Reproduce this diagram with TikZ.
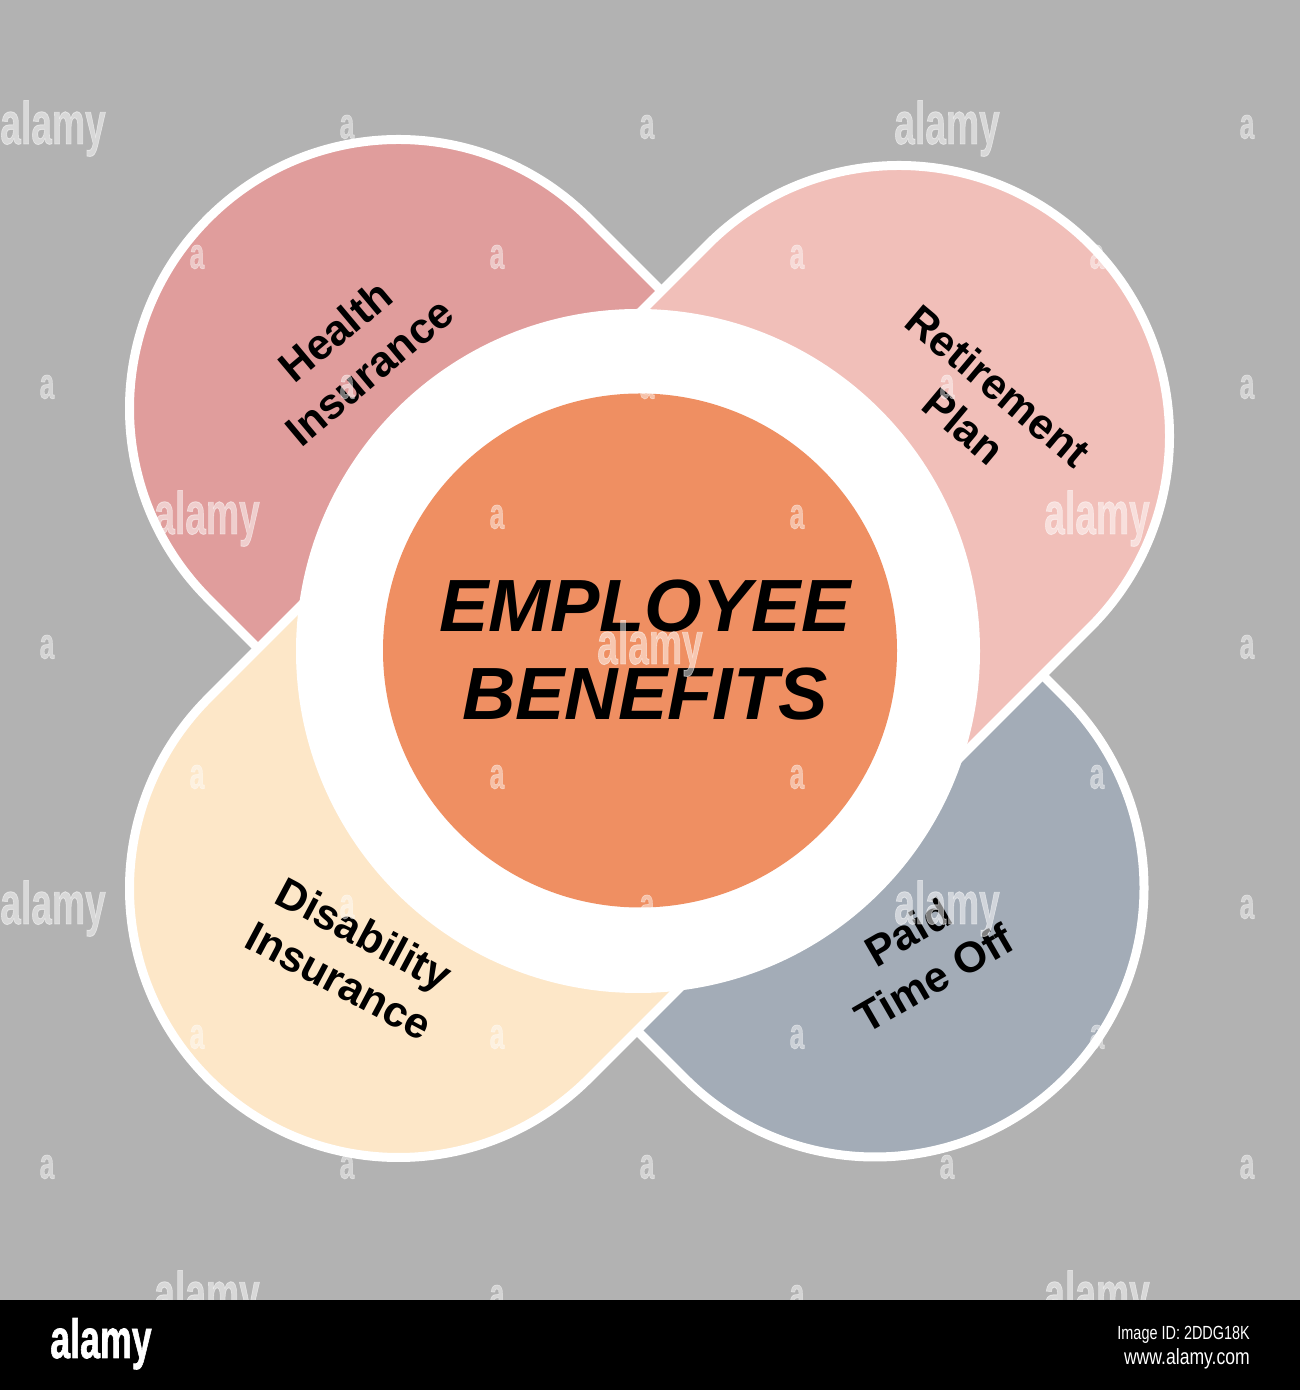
\documentclass[tikz,border=0pt]{standalone}
\usepackage{fontspec}
\setmainfont{Liberation Sans}
\newfontfamily\wmfont[FakeBold=1.5]{Liberation Sans}
\definecolor{bggray}{HTML}{B2B2B2}
\definecolor{healthc}{HTML}{E09D9C}
\definecolor{retirec}{HTML}{F1BFB9}
\definecolor{disabc}{HTML}{FDE7C8}
\definecolor{paidc}{HTML}{A3ACB7}
\definecolor{orangec}{HTML}{EF8F62}
\begin{document}
\begin{tikzpicture}[x=1pt,y=1pt,
  petal/.style={draw=white, line width=9pt, line join=round},
  lbl/.style={font=\fontsize{43}{53}\selectfont\bfseries, align=center, text=black, inner sep=0pt},
  titletext/.style={font=\fontsize{74}{88}\selectfont\bfseries\itshape, inner sep=0pt, anchor=base},
  wmbig/.style={font=\wmfont\fontsize{60}{60}\selectfont\bfseries, text=white, text opacity=0.5, xscale=0.62, inner sep=0pt, anchor=base},
  wmsmall/.style={font=\wmfont\fontsize{44}{44}\selectfont\bfseries, text=white, text opacity=0.45, xscale=0.6, inner sep=0pt},
  foot/.style={text=white, inner sep=0pt}]

\useasboundingbox (0,0) rectangle (1300,1390);
\fill[bggray] (0,0) rectangle (1300,1390);

% petals (semicircle + straight sides toward the centre)
\draw[petal, fill=healthc, shift={(398.5,981.5)}, rotate=-45]
  (0,269) arc[start angle=90, end angle=270, radius=269pt] -- (340,-269) -- (340,269) -- cycle;
\draw[petal, fill=paidc, shift={(875,502)}, rotate=135]
  (0,269) arc[start angle=90, end angle=270, radius=269pt] -- (340,-269) -- (340,269) -- cycle;
\draw[petal, fill=retirec, shift={(899,954)}, rotate=225]
  (0,270.5) arc[start angle=90, end angle=270, radius=270.5pt] -- (340,-270.5) -- (340,270.5) -- cycle;
\draw[petal, fill=disabc, shift={(398.5,501.5)}, rotate=45]
  (0,269) arc[start angle=90, end angle=270, radius=269pt] -- (340,-269) -- (340,269) -- cycle;

% centre
\fill[white] (638,739) circle[radius=342pt];
\fill[orangec] (640,739.5) circle[radius=257pt];

\node[titletext] (emp) at (645,758) {EMPLOYEE};
\node[titletext] (ben) at (645,670) {BENEFITS};

% petal labels
\node[lbl, rotate=40] (health) at (352,1039) {Health\\Insurance};
\node[lbl, rotate=-40] (retire) at (981,984) {Retirement\\Plan};
\node[lbl, rotate=-28] (disab) at (352,433) {Disability\\Insurance};
\node[lbl, rotate=30] (paid) at (921,435) {Paid\\Time Off};

% watermarks
\foreach \x/\y [count=\i] in {53/127, 947/127, 207/517, 1097/517, 650/647, 53/907, 947/907, 207/1297, 1097/1297}
  \node[wmbig] (wmb\i) at (\x,{1373-\y}) {alamy};
\foreach \x/\y [count=\i] in {347/127, 647/127, 1247/127,
    197/257, 497/257, 797/257, 1097/257,
    47/387, 347/387, 647/387, 947/387, 1247/387,
    497/517, 797/517,
    47/647, 347/647, 947/647, 1247/647,
    197/777, 497/777, 797/777, 1097/777,
    347/907, 647/907, 1247/907,
    197/1037, 497/1037, 797/1037, 1097/1037,
    47/1167, 347/1167, 647/1167, 947/1167, 1247/1167,
    497/1297, 797/1297}
  \node[wmsmall] (wms\i) at (\x,{1390-\y}) {a};

% footer band
\fill[black] (0,0) rectangle (1300,90);
\node[foot, font=\wmfont\fontsize{55}{55}\selectfont\bfseries, xscale=0.65, anchor=base] (logo) at (101,32) {alamy};
\node[foot, font=\fontsize{19}{19}\selectfont, xscale=0.76, anchor=base east] (imgid) at (1250,50) {Image ID: 2DDG18K};
\node[foot, font=\fontsize{22}{22}\selectfont, xscale=0.8, anchor=base east] (url) at (1250,25) {www.alamy.com};
\end{tikzpicture}
\end{document}
